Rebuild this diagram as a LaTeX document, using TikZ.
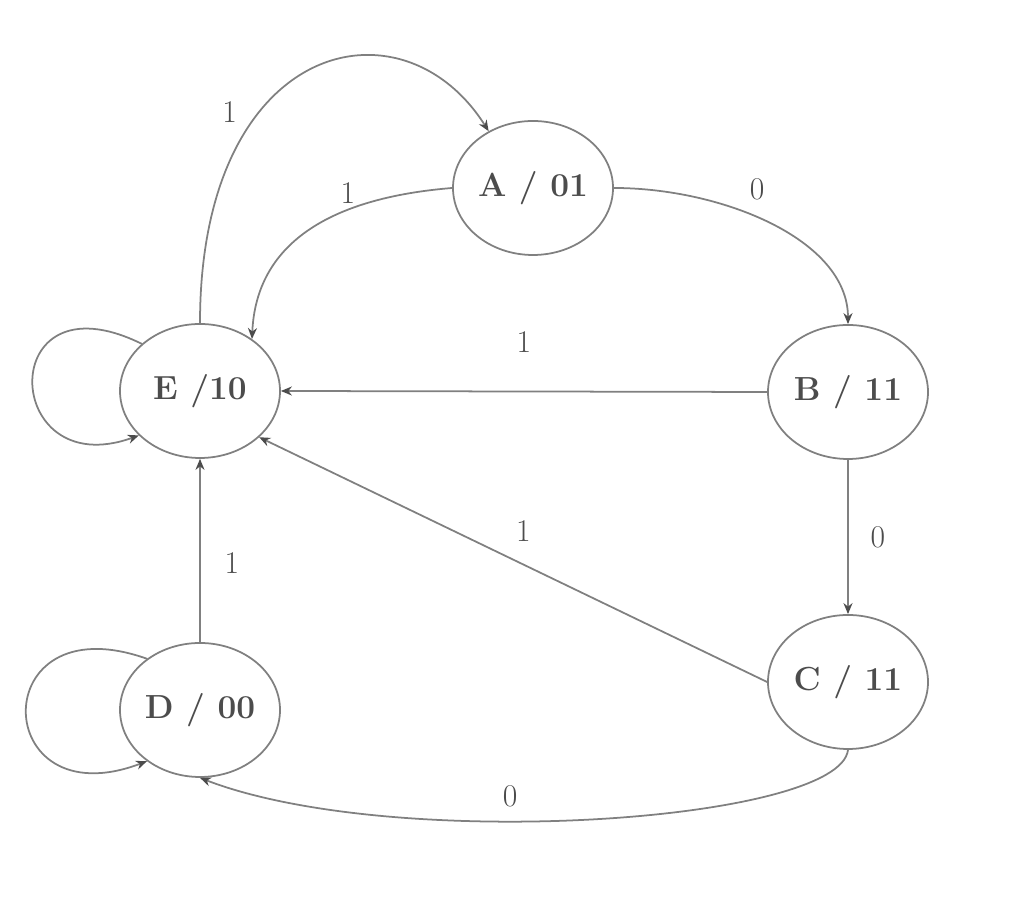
\documentclass[tikz,border=0pt]{standalone}
\usetikzlibrary{shapes.geometric,arrows.meta}
\definecolor{linegray}{gray}{0.5}
\definecolor{textgray}{gray}{0.3}
\begin{document}
\begin{tikzpicture}[>={Stealth[length=2.2mm,width=1.8mm,color=textgray]},line join=round,line cap=round,line width=1pt,
	state/.style={ellipse,draw=linegray,text=textgray,minimum width=3.2cm,minimum height=2.68cm,inner sep=0pt,font=\fontsize{19}{22}\selectfont\bfseries},
	lbl/.style={text=textgray,inner sep=0pt,font=\fontsize{18}{21}\selectfont},
	edge/.style={->,draw=linegray}]
	\useasboundingbox (0,0) rectangle (20.48,18.02);
	\node[state] (A) at (10.66,14.26) {A / 01};
	\node[state] (B) at (16.96,10.18) {B / 11};
	\node[state] (C) at (16.96,4.38) {C / 11};
	\node[state] (E) at (4.0,10.2) {E /10};
	\node[state] (D) at (4.0,3.82) {D / 00};
	% self loops
	\draw[edge] (E.141) .. controls +(-2.96,1.46) and +(-2.76,-1.0) .. (E.216);
	\draw[edge] (D.136) .. controls +(-3.26,1.16) and +(-3.16,-1.2) .. (D.224);
	% transitions
	\draw[edge] (E.north) .. controls +(0,5.66) and +(-1.74,2.76) .. (A.128)
		node[lbl,pos=0.33,xshift=-0.5cm,yshift=0.12cm] {1};
	\draw[edge] (A.west) .. controls +(-2.46,-0.2) and +(0.08,1.9) .. (E.45)
		node[lbl,pos=0.3,xshift=-0.15cm,yshift=0.28cm] {1};
	\draw[edge] (A.east) .. controls +(2.14,0) and +(0,1.7) .. (B.north)
		node[lbl,pos=0.45,yshift=0.56cm] {0};
	\draw[edge] (B.west) -- (E.east) node[lbl,midway,yshift=0.98cm] {1};
	\draw[edge] (B.south) -- (C.north) node[lbl,midway,xshift=0.6cm] {0};
	\draw[edge] (C.west) -- (E.-38) node[lbl,pos=0.48,yshift=0.66cm] {1};
	\draw[edge] (D.north) -- (E.south) node[lbl,pos=0.43,xshift=0.64cm] {1};
	\draw[edge] (C.south) .. controls +(-0.16,-1.44) and +(3.9,-1.5) .. (D.south)
		node[lbl,pos=0.6,yshift=0.5cm] {0};
\end{tikzpicture}
\end{document}
